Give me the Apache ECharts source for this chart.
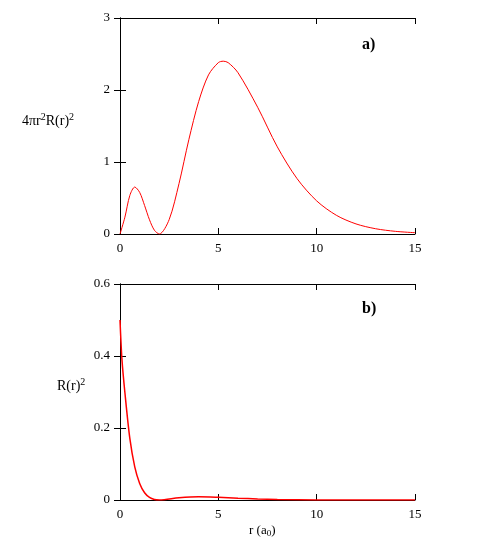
<!DOCTYPE html>
<html><head><meta charset="utf-8">
<script src="https://cdn.jsdelivr.net/npm/echarts@6/dist/echarts.min.js"></script>
<style>html,body{margin:0;background:#fff}#c{width:497px;height:552px}</style>
</head><body><div id="c"></div>
<script>
// radial distribution 4*pi*r^2*R^2 (panel a)
var rA = [0,0.25,0.5,0.75,1,1.25,1.5,1.75,2,2.5,3,3.5,4,4.5,5,5.25,5.5,6,7,8,9,10,11,12,13,14,15];
var pA = [0,0.234,0.536,0.652,0.578,0.396,0.197,0.052,0,0.20,0.70,1.31,1.84,2.21,2.38,2.40,2.38,2.24,1.76,1.21,0.77,0.46,0.26,0.14,0.073,0.037,0.018];
// R(r)^2 (panel b)
var rB = [0,0.1,0.25,0.5,0.75,1,1.25,1.5,1.75,2,3,4,5,6,7,8,10,12,15];
var pB = [0.5,0.39,0.298,0.171,0.092,0.046,0.020,0.007,0.0014,0,0.0062,0.0092,0.0076,0.005,0.0028,0.0015,0.0003,0.0001,0];

var myChart = echarts.init(document.getElementById('c'));
var font = 'Liberation Serif';
function xa(grid, pos, lab) {
	return {type:'value', gridIndex:grid, position:pos, min:0, max:15, interval:5,
		axisLine:{show:true, onZero:false, lineStyle:{color:'#000'}},
		axisTick:{inside:true, length:6, lineStyle:{color:'#000'}},
		axisLabel:{show:lab, color:'#000', fontFamily:font, fontSize:13, margin:8},
		splitLine:{show:false}};
}
function ya(grid, pos, lab, max, step) {
	return {type:'value', gridIndex:grid, position:pos, min:0, max:max, interval:step,
		axisLine:{show:true, lineStyle:{color:'#000'}},
		axisTick:{inside:true, length:6, lineStyle:{color:'#000'}},
		axisLabel:{show:lab, color:'#000', fontFamily:font, fontSize:13, margin:10},
		splitLine:{show:false}};
}
function pts(x, y) { return x.map(function (v, i) { return [v, y[i]]; }); }

option = {
	animation:false,
	grid:[
		{left:120, right:82, top:18, height:216},
		{left:120, right:82, top:284, height:216}
	],
	xAxis:[xa(0,'bottom',true), xa(0,'top',false), xa(1,'bottom',true), xa(1,'top',false)],
	yAxis:[ya(0,'left',true,3,1), ya(0,'right',false,3,1), ya(1,'left',true,0.6,0.2), ya(1,'right',false,0.6,0.2)],
	graphic:[
		{type:'text', left:22, top:112, style:{text:'4πr{s|2}R(r){s|2}', fontFamily:font, fontSize:14, fill:'#000',
			rich:{s:{fontSize:10, verticalAlign:'top', padding:[0,0,8,0], fontFamily:font}}}},
		{type:'text', left:57, top:377, style:{text:'R(r){s|2}', fontFamily:font, fontSize:14, fill:'#000',
			rich:{s:{fontSize:10, verticalAlign:'top', padding:[0,0,8,0], fontFamily:font}}}},
		{type:'text', left:249, top:524, style:{text:'r (a{s|0})', fontFamily:font, fontSize:13, fill:'#000',
			rich:{s:{fontSize:9, padding:[6,0,0,0], fontFamily:font}}}},
		{type:'text', left:362, top:37, style:{text:'a)', fontFamily:font, fontSize:16, fontWeight:'bold', fill:'#000'}},
		{type:'text', left:362, top:301, style:{text:'b)', fontFamily:font, fontSize:16, fontWeight:'bold', fill:'#000'}}
	],
	series:[
		{type:'line', xAxisIndex:0, yAxisIndex:0, smooth:0.3, showSymbol:false,
			lineStyle:{color:'#ff0000', width:1}, data:pts(rA, pA)},
		{type:'line', xAxisIndex:2, yAxisIndex:2, smooth:0.3, showSymbol:false,
			lineStyle:{color:'#ff0000', width:1.5}, data:pts(rB, pB)}
	]
};
myChart.setOption(option);
</script></body></html>
